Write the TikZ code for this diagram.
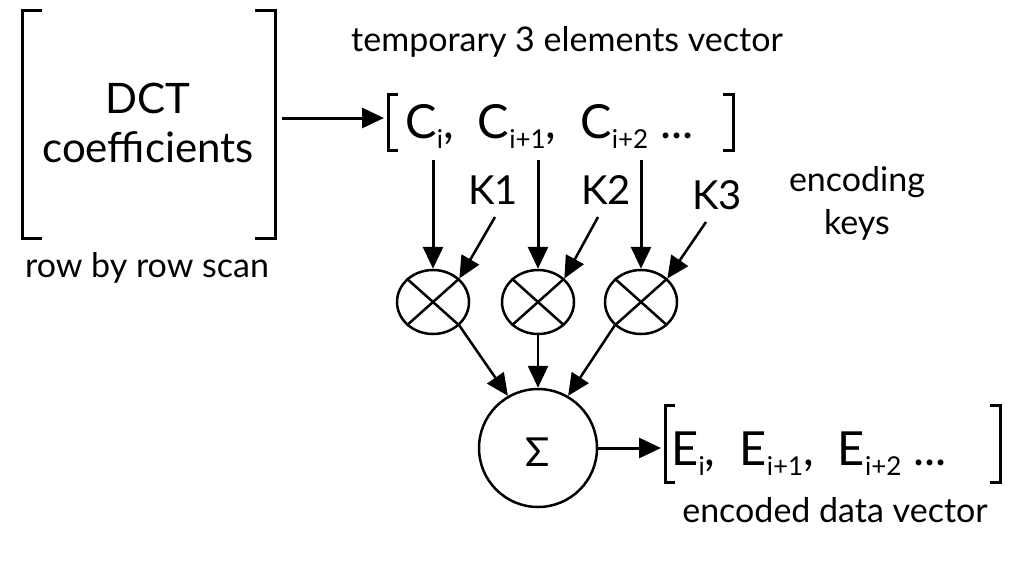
\documentclass[tikz,border=0pt]{standalone}
\usepackage{fontspec}
\setmainfont{Lato}
\usetikzlibrary{arrows.meta,shapes.geometric}
\newcommand{\mysub}[1]{\raisebox{-0.22em}{\fontsize{26}{28}\selectfont #1}}
\begin{document}
\begin{tikzpicture}[x=1pt,y=-1pt,line width=3pt,
  arr/.style={-{Triangle[length=22pt,width=20pt]}},
  mul/.style={draw,ellipse,minimum width=72pt,minimum height=64pt,inner sep=0pt,line width=2.5pt},
  lbl/.style={font=\fontsize{34}{38}\selectfont,inner sep=0pt},
  big/.style={font=\fontsize{42}{46}\selectfont,inner sep=0pt},
  vec/.style={font=\fontsize{47}{52}\selectfont,inner sep=0pt}]
\useasboundingbox (0,0) rectangle (1030,582);
% big bracket
\draw (42,10) -- (22,10) -- (22,238) -- (42,238);
\draw (255,10) -- (275,10) -- (275,238) -- (255,238);
\node[big] (dct) at (148,98) {DCT};
\node[big] (coef) at (148,147) {coefficients};
\node[lbl] (scan) at (147,268) {row by row scan};
\node[lbl] (tmp) at (567,42) {temporary 3 elements vector};
% vector bracket
\draw (398,94) -- (388,94) -- (388,150) -- (398,150);
\draw (723,94) -- (733,94) -- (733,150) -- (723,150);
\node[vec,anchor=base west] (cv) at (404,138) {C\mysub{i},\ \ C\mysub{i+1},\ \ C\mysub{i+2} ...};
\coordinate (a1) at (282,118);
\coordinate (a2) at (384,118);
\draw[arr] (a1) -- (a2);
% multipliers
\node[mul] (m1) at (433,302) {};
\node[mul] (m2) at (538,302) {};
\node[mul] (m3) at (641,302) {};
\foreach \m in {m1,m2,m3}{
  \draw[line width=2.5pt] (\m.north west) -- (\m.south east);
  \draw[line width=2.5pt] (\m.north east) -- (\m.south west);}
\coordinate (c1) at (433,160);
\coordinate (c2) at (538,160);
\coordinate (c3) at (641,160);
\draw[arr] (c1) -- (m1.north);
\draw[arr] (c2) -- (m2.north);
\draw[arr] (c3) -- (m3.north);
\node[vec,font=\fontsize{40}{44}\selectfont] (k1) at (493,190) {K1};
\node[vec,font=\fontsize{40}{44}\selectfont] (k2) at (606,190) {K2};
\node[vec,font=\fontsize{40}{44}\selectfont] (k3) at (717,195) {K3};
\coordinate (d1) at (495,217);
\coordinate (d2) at (598,217);
\coordinate (d3) at (706,222);
\draw[arr,line width=2.5pt] (d1) -- (m1.north east);
\draw[arr,line width=2.5pt] (d2) -- (m2.north east);
\draw[arr,line width=2.5pt] (d3) -- (m3.north east);
\node[lbl] (enc1) at (857,182) {encoding};
\node[lbl] (enc2) at (857,225) {keys};
% sum
\node[draw,circle,minimum size=118pt,inner sep=0pt,line width=2.5pt] (s) at (538,448) {};
\node[font=\fontsize{40}{44}\selectfont] (sig) at (538,452) {Σ};
\draw[arr,line width=2.5pt] (m1.south east) -- (s.120);
\draw[arr,line width=2.5pt] (m2.south) -- (s.north);
\draw[arr,line width=2.5pt] (m3.south west) -- (s.60);
% output vector
\draw (675,405) -- (665,405) -- (665,482) -- (675,482);
\draw (990,405) -- (1000,405) -- (1000,482) -- (990,482);
\node[vec,anchor=base west] (ev) at (670,465) {E\mysub{i},\ \ E\mysub{i+1},\ \ E\mysub{i+2} ...};
\draw[arr] (s.east) -- (661,448);
\node[lbl] (encd) at (835,510) {encoded data vector};
\end{tikzpicture}
\end{document}
